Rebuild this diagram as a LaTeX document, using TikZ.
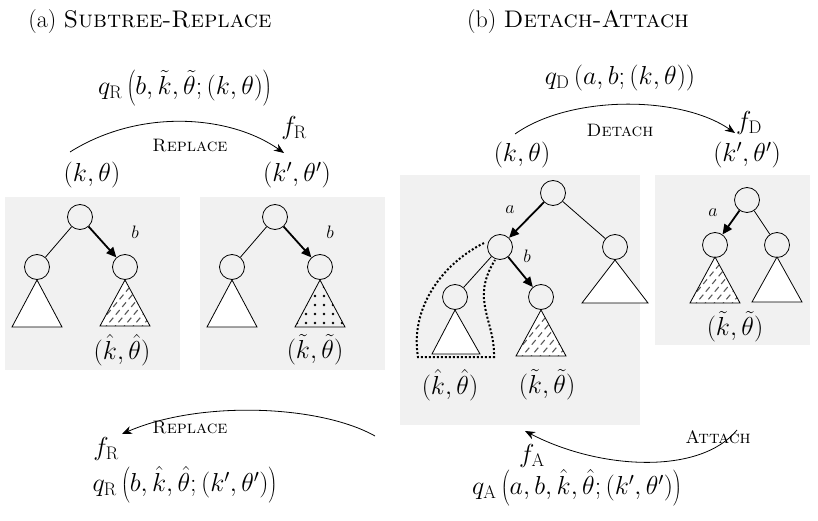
\RequirePackage{fix-cm}
\documentclass[tikz,border=0pt]{standalone}
\usetikzlibrary{patterns,patterns.meta,arrows.meta}
\definecolor{boxg}{HTML}{F1F1F1}
\newcommand\hatchTri[2]{% apex x, apex y (height 46, half base 25)
  \begin{scope}
  \clip (#1,#2) -- (#1-25,#2+46) -- (#1+25,#2+46) -- cycle;
  \fill[white] (#1-25,#2) rectangle (#1+25,#2+46);
  \foreach \k in {0,9,...,81}{
    \draw[line width=1.1pt,black!65,dash pattern=on 6pt off 4pt] (#1-40+\k,#2+50) -- ++(35,-42);}
  \end{scope}
  \draw[thick] (#1,#2) -- (#1-25,#2+46) -- (#1+25,#2+46) -- cycle;}
\begin{document}
\begin{tikzpicture}[x=1pt,y=-1pt,
  every node/.style={font=\fontsize{24}{28}\selectfont},
  nd/.style={circle,draw,thick,minimum size=25pt,inner sep=0pt,fill=boxg},
  sm/.style={font=\fontsize{18}{22}\selectfont},
  tri/.style={draw,thick,fill=white},
  edge/.style={thick},
  bold/.style={line width=1.8pt,-{Triangle[length=10pt,width=9pt]}},
  arc/.style={thick,-{Stealth[length=10pt,width=8pt]}},
  lbl/.style={font=\fontsize{26}{30}\selectfont}]
\useasboundingbox (0,0) rectangle (818,521);
% titles
\node (ta) at (150,22) {(a) \textsc{Subtree-Replace}};
\node (tb) at (578,22) {(b) \textsc{Detach-Attach}};
% ---- panel a
\node[lbl] (qa) at (185,88) {$q_{\mathrm{R}}\left(b,\tilde k,\tilde\theta;(k,\theta)\right)$};
\node[lbl] (kt1) at (92,175) {$(k,\theta)$};
\node[lbl] (kt2) at (297,175) {$(k',\theta')$};
\coordinate (a1s) at (70,152); \coordinate (a1e) at (284,153);
\draw[arc] (a1s) .. controls (140,108) and (230,115) .. (a1e);
\node[lbl] (fr1) at (294,128) {$f_{\mathrm{R}}$};
\node[sm] (rp1) at (190,146) {\textsc{Replace}};
\fill[boxg] (5,197) rectangle (180,370);
\fill[boxg] (200,197) rectangle (385,370);
\foreach \o/\n in {0/L,195/R}{
  \begin{scope}[xshift=\o]
  \node[nd] (r\n) at (80,217) {};
  \node[nd] (l\n) at (37,267) {};
  \node[nd] (c\n) at (125,267) {};
  \draw[edge] (r\n) -- (l\n);
  \draw[bold] (r\n) -- (c\n);
  \node[sm] (b\n) at (135,232) {$b$};
  \draw[tri] (37,280) -- (12,327) -- (62,327) -- cycle;
  \end{scope}}
\hatchTri{125}{280}
\draw[tri,pattern={Dots[distance=9pt,radius=1.4pt]},pattern color=black] (320,280) -- (295,327) -- (345,327) -- cycle;
\node[lbl] (kh1) at (122,350) {$(\hat k,\hat\theta)$};
\node[lbl] (kt3) at (315,350) {$(\tilde k,\tilde\theta)$};
\coordinate (a2s) at (375,436); \coordinate (a2e) at (122,434);
\draw[arc] (a2s) .. controls (320,405) and (200,400) .. (a2e);
\node[lbl] (fr2) at (106,449) {$f_{\mathrm{R}}$};
\node[sm] (rp2) at (190,428) {\textsc{Replace}};
\node[lbl] (qb) at (185,485) {$q_{\mathrm{R}}\left(b,\hat k,\hat\theta;(k',\theta')\right)$};
% ---- panel b
\node[lbl] (qd) at (620,78) {$q_{\mathrm{D}}\,(a,b;(k,\theta))$};
\node[lbl] (kt4) at (522,155) {$(k,\theta)$};
\node[lbl] (kt5) at (747,155) {$(k',\theta')$};
\coordinate (b1s) at (515,134); \coordinate (b1e) at (735,133);
\draw[arc] (b1s) .. controls (570,95) and (680,95) .. (b1e);
\node[lbl] (fd) at (749,123) {$f_{\mathrm{D}}$};
\node[sm] (dt) at (620,130) {\textsc{Detach}};
\fill[boxg] (400,175) rectangle (640,425);
\fill[boxg] (655,175) rectangle (810,345);
\node[nd] (r3) at (553,193) {};
\node[nd] (a3) at (500,247) {};
\node[nd] (q3) at (615,247) {};
\node[nd] (x3) at (455,297) {};
\node[nd] (y3) at (541,297) {};
\draw[bold] (r3) -- (a3);
\draw[edge] (r3) -- (q3);
\draw[edge] (a3) -- (x3);
\draw[bold] (a3) -- (y3);
\node[sm] (la) at (510,210) {$a$};
\node[sm] (lb) at (527,256) {$b$};
\draw[tri] (615,260) -- (582,303) -- (648,303) -- cycle;
\draw[tri] (455,310) -- (432,354) -- (480,354) -- cycle;
\hatchTri{541}{310}
\draw[line width=2pt,dotted] (484,243) .. controls (440,265) and (410,310) .. (418,357) -- (494,357) .. controls (495,320) and (470,300) .. (495,260);
\node[lbl] (kh2) at (450,385) {$(\hat k,\hat\theta)$};
\node[lbl] (kt6) at (547,385) {$(\tilde k,\tilde\theta)$};
\node[nd] (r4) at (747,200) {};
\node[nd] (a4) at (715,245) {};
\node[nd] (q4) at (777,245) {};
\draw[bold] (r4) -- (a4);
\draw[edge] (r4) -- (q4);
\node[sm] (la4) at (713,213) {$a$};
\hatchTri{715}{257}
\draw[tri] (777,257) -- (752,302) -- (802,302) -- cycle;
\node[lbl] (kt7) at (735,327) {$(\tilde k,\tilde\theta)$};
\coordinate (b2s) at (737,430); \coordinate (b2e) at (525,431);
\draw[arc] (b2s) .. controls (700,475) and (600,470) .. (b2e);
\node[sm] (at) at (718,437) {\textsc{Attach}};
\node[lbl] (fa) at (532,456) {$f_{\mathrm{A}}$};
\node[lbl] (qaa) at (577,488) {$q_{\mathrm{A}}\left(a,b,\hat k,\hat\theta;(k',\theta')\right)$};
\end{tikzpicture}
\end{document}
